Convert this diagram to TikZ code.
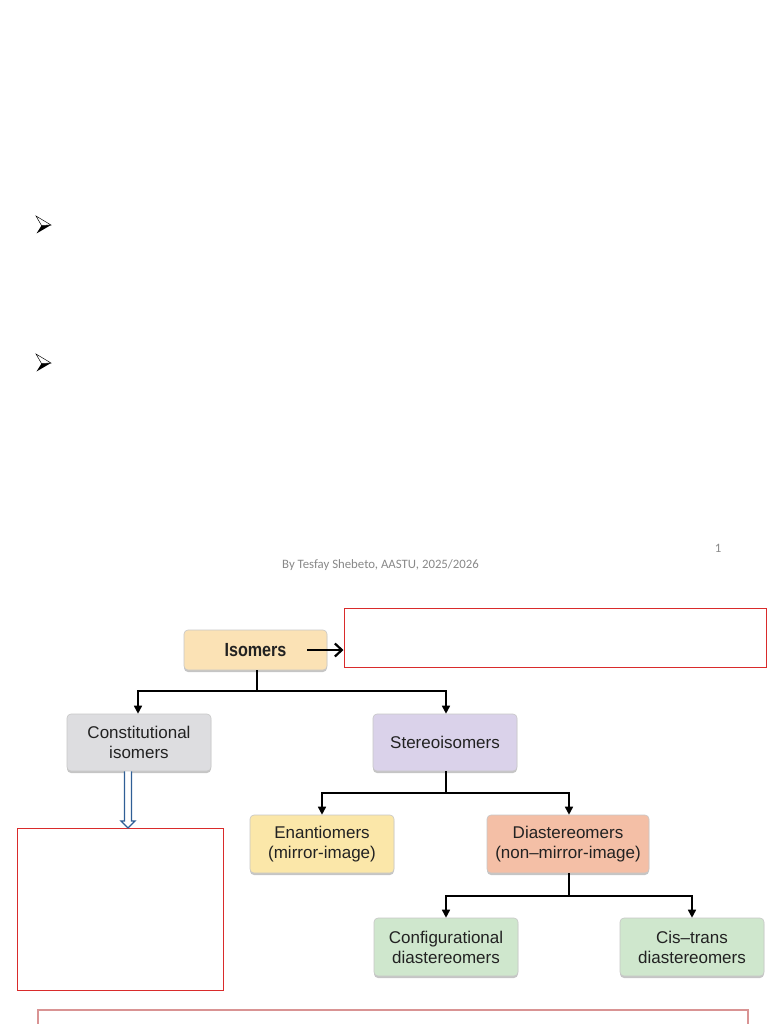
\documentclass[tikz,border=0pt]{standalone}
\usepackage{fontspec}
\setmainfont{Liberation Sans}
\newfontfamily\boxfont{Liberation Sans}
\newfontfamily\isofont[FakeStretch=0.85]{Liberation Sans}
\newfontfamily\footfont{Carlito}
\usetikzlibrary{arrows.meta,shadows}
\definecolor{isoC}{HTML}{FBE2B5}
\definecolor{constC}{HTML}{DDDDE0}
\definecolor{stereoC}{HTML}{DAD2EA}
\definecolor{enanC}{HTML}{FBE7A9}
\definecolor{diaC}{HTML}{F4BFA6}
\definecolor{confC}{HTML}{CFE7CD}
\definecolor{txtC}{HTML}{222222}
\definecolor{redC}{HTML}{D92B2B}
\definecolor{paleRedC}{HTML}{D99494}
\definecolor{blueC}{HTML}{2F5F96}
\definecolor{footC}{HTML}{898989}
\tikzset{
  fbox/.style={rounded corners=4pt, draw=black!22, line width=0.6pt, fill=#1,
    minimum width=144pt, minimum height=57pt, align=center, inner sep=2pt,
    text=txtC, font=\boxfont\fontsize{17}{20}\selectfont,
    drop shadow={shadow xshift=0pt, shadow yshift=-2pt, opacity=0.45}},
  redbox/.style={draw=redC, line width=1pt, inner sep=0pt},
  conn/.style={line width=1.5pt, black, -{Triangle[width=8pt,length=8pt]}},
  plain/.style={line width=1.5pt, black},
}
\begin{document}
\begin{tikzpicture}[x=1pt,y=-1pt]
\useasboundingbox (0,0) rectangle (768,1024);
\clip (0,0) rectangle (768,1024);
\fill[white] (0,0) rectangle (768,1024);

% bullets
\foreach \yy in {216,354}{
  \fill[black] (41.5,\yy+9.5) -- (51,\yy+9) -- (36.5,\yy+17.5) -- cycle;
  \draw[black, line width=0.5pt, fill=white] (36,\yy) -- (51,\yy+9) -- (41.5,\yy+9.5) -- cycle;
}

% footer
\node[font=\footfont\fontsize{12.8}{15}\selectfont, text=footC] (foot) at (380.5,565) {By Tesfay Shebeto, AASTU, 2025/2026};
\node[font=\footfont\fontsize{12.8}{15}\selectfont, text=footC] (pnum) at (718,548) {1};

% boxes
\node[fbox=isoC, minimum width=143pt, minimum height=40pt,
  font=\isofont\bfseries\fontsize{19}{22}\selectfont] (iso) at (255.5,650) {Isomers};
\node[fbox=constC] (const) at (139,742.5) {Constitutional\\isomers};
\node[fbox=stereoC] (stereo) at (445,742.5) {Stereoisomers};
\node[fbox=enanC, minimum height=58pt] (enan) at (322,844) {Enantiomers\\(mirror-image)};
\node[fbox=diaC, minimum width=162pt, minimum height=58pt] (dia) at (568,844) {Diastereomers\\(non\textendash mirror-image)};
\node[fbox=confC, minimum height=58pt] (conf) at (446,947) {Configurational\\diastereomers};
\node[fbox=confC, minimum height=58pt] (cis) at (692,947) {Cis\textendash trans\\diastereomers};

% red boxes
\node[redbox, minimum width=422pt, minimum height=59pt] (rA) at (555,637.5) {};
\node[redbox, minimum width=206pt, minimum height=162pt] (rB) at (120,909) {};
\draw[paleRedC, line width=1.5pt] (38,1040) -- (38,1010) -- (748,1010) -- (748,1040);

% junctions and guide coordinates
\coordinate (j1) at (257,691);
\coordinate (j2) at (446,793);
\coordinate (j3) at (569,896);
\coordinate (xc) at (138,0);
\coordinate (xs) at (446,0);
\coordinate (xd) at (569,0);
\coordinate (bl) at (124.5,0);
\coordinate (br) at (131.5,0);
\coordinate (btip) at (128,828);

\draw[plain] (iso.south -| j1) -- (j1);
\draw[conn] (j1) -| (const.north -| xc);
\draw[conn] (j1) -| (stereo.north -| xs);
\draw[plain] (stereo.south -| j2) -- (j2);
\draw[conn] (j2) -| (enan.north);
\draw[conn] (j2) -| (dia.north -| xd);
\draw[plain] (dia.south -| j3) -- (j3);
\draw[conn] (j3) -| (conf.north);
\draw[conn] (j3) -| (cis.north);

% isomers arrow
\draw[line width=2.2pt, -{Straight Barb[length=7pt,width=13pt]}]
  ([xshift=-20pt]iso.east) -- (rA.west |- iso.east);

% blue hollow arrow
\draw[blueC, line width=1.3pt, fill=white, line join=miter]
  (const.south -| bl) -- (124.5,821) -- (121,821) -- (btip) -- (135,821)
  -- (131.5,821) -- (const.south -| br);
\end{tikzpicture}
\end{document}
